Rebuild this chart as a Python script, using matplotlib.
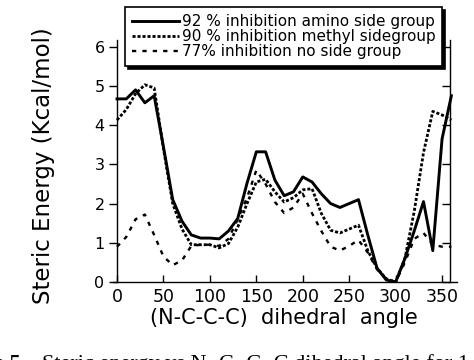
import numpy as np
import matplotlib
matplotlib.use("Agg")
from matplotlib import pyplot as plt

plt.rcParams['font.family'] = ['DejaVu Sans']

# dihedral angle (deg)
angle = np.arange(0, 361, 10)

amino = [4.67, 4.67, 4.9, 4.57, 4.75, 3.45, 2.1, 1.55, 1.2, 1.12,
         1.12, 1.1, 1.3, 1.62, 2.52, 3.32, 3.32, 2.6, 2.2, 2.3,
         2.68, 2.55, 2.25, 2.0, 1.9, 2.0, 2.1, 1.2, 0.35, 0.05,
         0.0, 0.6, 1.3, 2.05, 0.8, 3.65, 4.75]
methyl = [4.13, 4.4, 4.8, 5.03, 4.95, 3.4, 2.0, 1.35, 0.95, 0.95,
          0.95, 0.87, 0.98, 1.4, 2.0, 2.55, 2.62, 2.3, 2.04, 2.15,
          2.35, 2.38, 1.75, 1.32, 1.25, 1.35, 1.45, 0.8, 0.35, 0.08,
          0.0, 0.6, 1.8, 3.3, 4.35, 4.26, 4.13]
noside = [0.9, 1.15, 1.6, 1.72, 1.2, 0.65, 0.43, 0.55, 0.92, 0.95,
          0.95, 0.92, 1.1, 1.6, 2.15, 2.85, 2.5, 2.04, 1.76, 1.9,
          2.25, 1.75, 1.3, 0.9, 0.8, 0.92, 1.07, 0.75, 0.32, 0.08,
          0.0, 0.5, 1.1, 1.25, 0.95, 0.9, 0.9]

labels = ['92 % inhibition amino side group',
          '90 % inhibition methyl sidegroup',
          '77% inhibition no side group']

fig = plt.figure(figsize=(4.74, 3.6), dpi=100)
ax = fig.add_axes([0.239, 0.2167, 0.725, 0.672])

l1, = ax.plot(angle, amino, '-k', lw=2.1)
l2, = ax.plot(angle, methyl, color='k', lw=2.0, dashes=(1.1, 0.7))
l3, = ax.plot(angle, noside, color='k', lw=1.7, dashes=(1.8, 2.6))

ax.set_xlim(-4, 366)
ax.set_ylim(0, 6.17)
ax.set_xticks(np.arange(0, 351, 50))
ax.set_yticks(np.arange(0, 7, 1))
ax.spines['top'].set_visible(False)
ax.spines['right'].set_visible(False)
ax.spines['left'].set_position(('data', 0))
for s in ax.spines.values():
    s.set_linewidth(1.0)
ax.tick_params(axis='x', direction='in', length=5, width=1, pad=4, labelsize=12.5)
ax.tick_params(axis='y', direction='out', length=6, width=1, pad=3, labelsize=11.5)

# right-hand frame with inward ticks
ax2 = ax.twinx()
ax2.set_ylim(ax.get_ylim())
ax2.set_yticks(np.arange(0, 7, 1))
for k in ['top', 'left', 'bottom']:
    ax2.spines[k].set_visible(False)
ax2.spines['right'].set_position(('data', 358.5))
ax2.spines['right'].set_linewidth(1.0)
ax2.tick_params(axis='y', direction='in', length=6, width=1, labelright=False)

ax.set_xlabel('(N-C-C-C)  dihedral  angle', fontsize=15)
ax.xaxis.set_label_coords(0.495, -0.108)
ax.set_ylabel('Steric Energy (Kcal/mol)', fontsize=16.5)
ax.yaxis.set_label_coords(-0.17, 0.48)

leg = fig.legend([l1, l2, l3], labels, loc='lower left',
                 bbox_to_anchor=(125 / 474, 1 - 66 / 360),
                 bbox_transform=fig.transFigure, borderaxespad=0,
                 fontsize=11, frameon=True, fancybox=False,
                 shadow={'color': 'k', 'alpha': 1},
                 handlelength=3.1, handletextpad=0.15, labelspacing=0.0,
                 borderpad=0.45)
leg.get_frame().set_edgecolor('k')
leg.get_frame().set_linewidth(1.2)

fig.text(21 / 474, -9 / 360, 'Figure 5', ha='right', va='baseline',
         fontsize=16, family=['Liberation Serif', 'DejaVu Serif'], weight='bold')
fig.text(42 / 474, -9 / 360, 'Steric energy vs N\u2212C\u2212C\u2212C dihedral angle for 1',
         ha='left', va='baseline', fontsize=16,
         family=['Liberation Serif', 'DejaVu Serif'])

fig.savefig('out.png', dpi=100)
